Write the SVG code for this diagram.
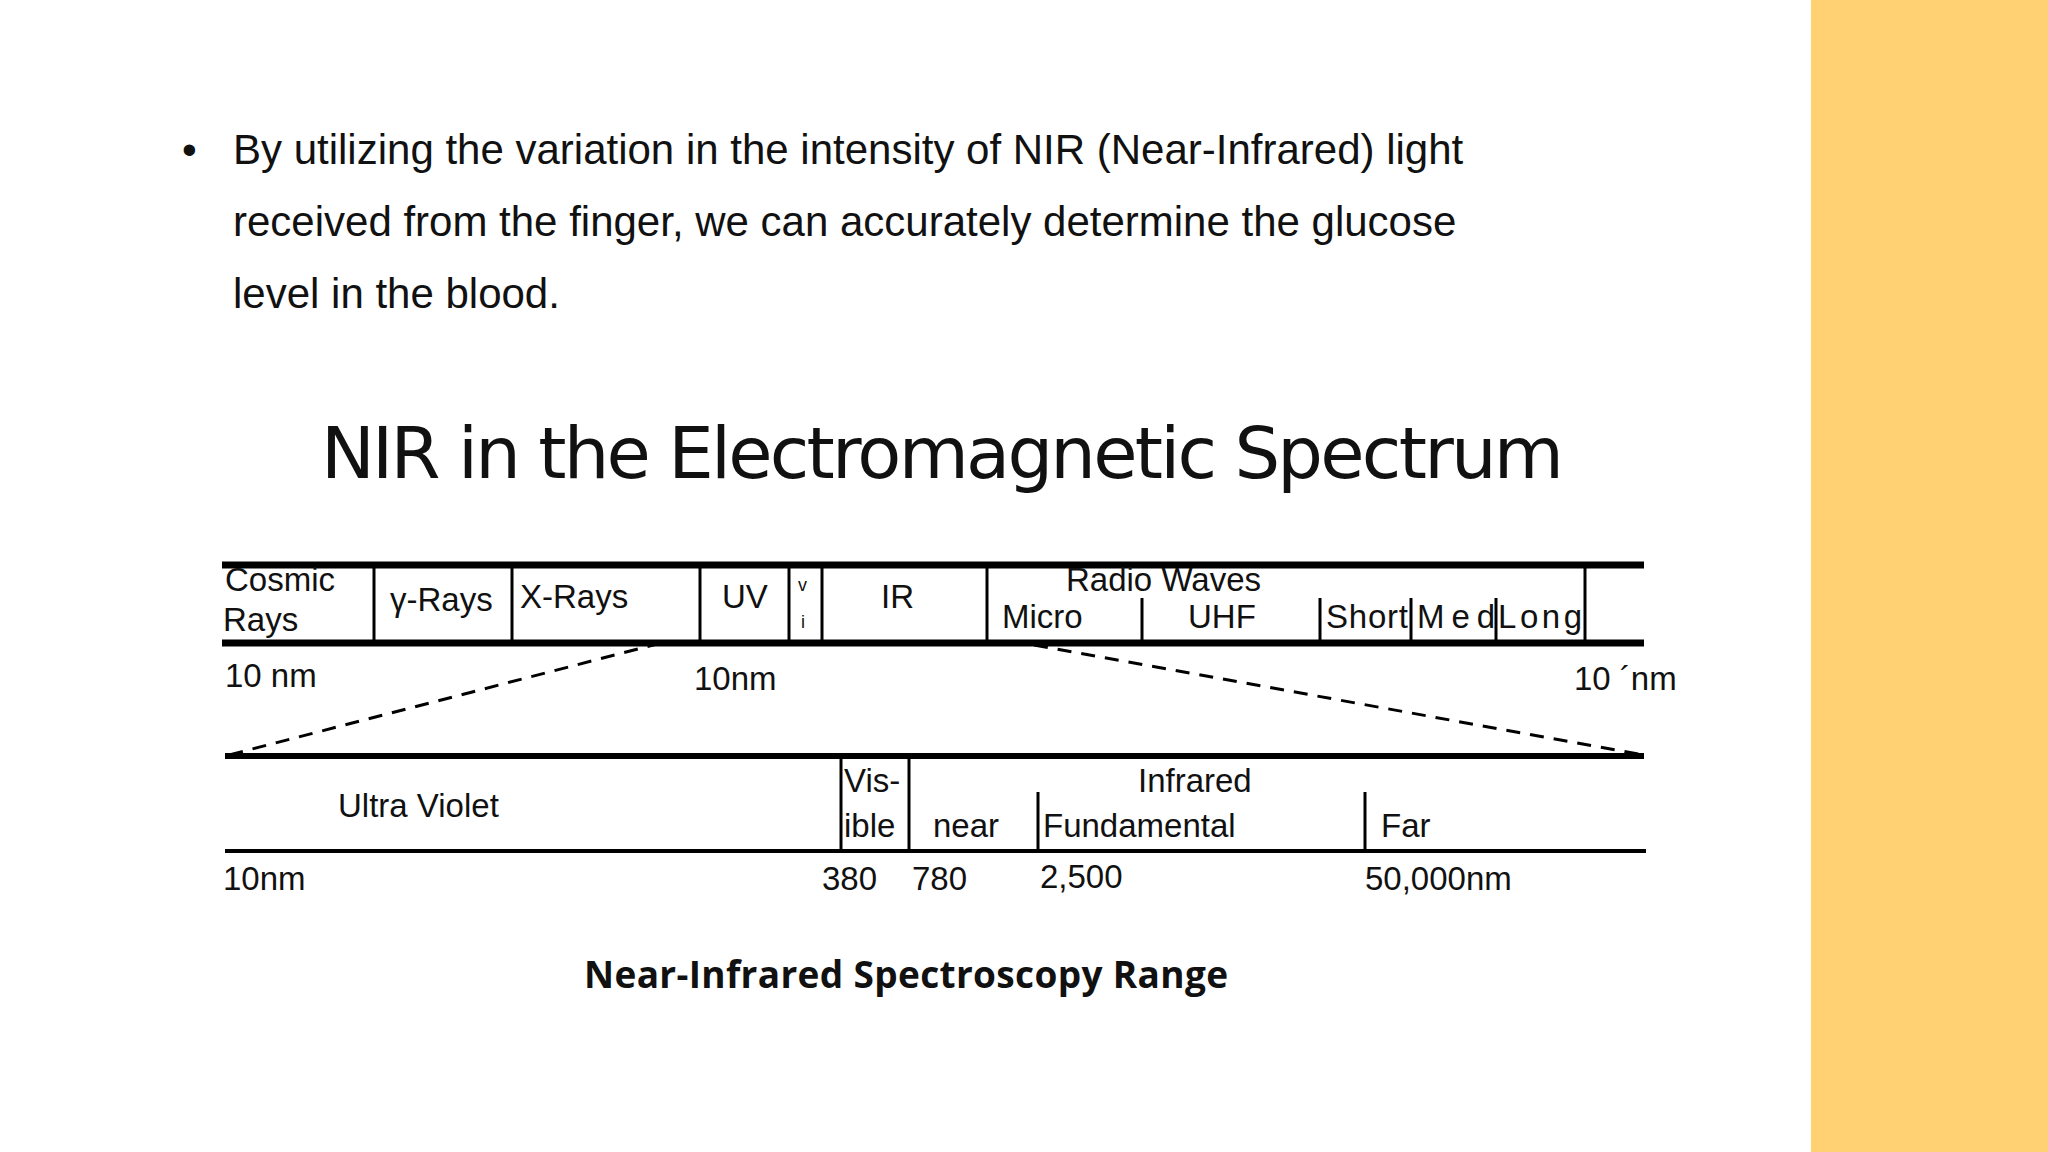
<svg xmlns="http://www.w3.org/2000/svg" width="2048" height="1152" viewBox="0 0 2048 1152">
<style>
.b{font-family:"Liberation Sans",Arial,sans-serif;font-size:42px;fill:#111}
.t{font-family:"Liberation Sans",Arial,sans-serif;font-size:33px;fill:#111}
.s{font-family:"Liberation Sans",Arial,sans-serif;font-size:18px;fill:#111}
.ln{stroke:#000;fill:none}
</style>
<rect width="2048" height="1152" fill="#fff"/>
<rect x="1811" y="0" width="237" height="1152" fill="#FFD173"/>
<g id="bullet">
<text class="b" x="182" y="164">•</text>
<text class="b" x="233" y="164">By utilizing the variation in the intensity of NIR (Near-Infrared) light</text>
<text class="b" x="233" y="236">received from the finger, we can accurately determine the glucose</text>
<text class="b" x="233" y="308">level in the blood.</text>
</g>
<g id="title"><text x="321" y="478" textLength="1243" style="font-family:'DejaVu Sans',sans-serif;font-size:72px;fill:#111">NIR in the Electromagnetic Spectrum</text></g>
<g id="connectors">
<line class="ln" x1="222" y1="565" x2="1644" y2="565" stroke-width="7"/>
<line class="ln" x1="222" y1="643" x2="1644" y2="643" stroke-width="7"/>
<g stroke-width="3" class="ln">
<line x1="374" y1="565" x2="374" y2="643"/><line x1="512" y1="565" x2="512" y2="643"/>
<line x1="700" y1="565" x2="700" y2="643"/><line x1="789" y1="565" x2="789" y2="643"/>
<line x1="822" y1="565" x2="822" y2="643"/><line x1="987" y1="565" x2="987" y2="643"/>
<line x1="1585" y1="565" x2="1585" y2="643"/>
<line x1="1142" y1="598" x2="1142" y2="643"/><line x1="1320" y1="598" x2="1320" y2="643"/>
<line x1="1411" y1="598" x2="1411" y2="643"/><line x1="1496" y1="598" x2="1496" y2="643"/>
</g>
<line class="ln" x1="661" y1="643" x2="229" y2="755" stroke-width="3" stroke-dasharray="14,10"/>
<line class="ln" x1="1034" y1="645" x2="1644" y2="755" stroke-width="3" stroke-dasharray="14,10"/>
<line class="ln" x1="225" y1="756" x2="1644" y2="756" stroke-width="6"/>
<line class="ln" x1="225" y1="851" x2="1646" y2="851" stroke-width="4"/>
<g stroke-width="3" class="ln">
<line x1="841" y1="756" x2="841" y2="851"/><line x1="909" y1="756" x2="909" y2="851"/>
<line x1="1038" y1="792" x2="1038" y2="851"/><line x1="1365" y1="792" x2="1365" y2="851"/>
</g>
</g>
<g id="top-band">
<text class="t" x="225" y="591">Cosmic</text><text class="t" x="223" y="631">Rays</text>
<text class="t" x="390" y="611">γ-Rays</text>
<text class="t" x="520" y="608">X-Rays</text>
<text class="t" x="722" y="608">UV</text>
<text class="s" x="798" y="591">v</text><text class="s" x="801" y="628">i</text>
<text class="t" x="881" y="608">IR</text>
<text class="t" x="1066" y="591">Radio Waves</text>
<text class="t" x="1002" y="628">Micro</text>
<text class="t" x="1188" y="628">UHF</text>
<text class="t" x="1326" y="628" textLength="82">Short</text>
<text class="t" x="1417" y="628" textLength="78">Med</text>
<text class="t" x="1498" y="628" textLength="84">Long</text>
</g>
<g id="top-scale">
<text class="t" x="225" y="687">10 nm</text>
<text class="t" x="694" y="690">10nm</text>
<text class="t" x="1574" y="690">10 ´nm</text>
</g>
<g id="bottom-band">
<text class="t" x="338" y="817">Ultra Violet</text>
<text class="t" x="844" y="792">Vis-</text><text class="t" x="844" y="837">ible</text>
<text class="t" x="933" y="837">near</text>
<text class="t" x="1138" y="792">Infrared</text>
<text class="t" x="1043" y="837">Fundamental</text>
<text class="t" x="1381" y="837">Far</text>
</g>
<g id="bottom-scale">
<text class="t" x="223" y="890">10nm</text>
<text class="t" x="822" y="890">380</text>
<text class="t" x="912" y="890">780</text>
<text class="t" x="1040" y="888">2,500</text>
<text class="t" x="1365" y="890">50,000nm</text>
</g>
<g id="caption"><text x="906" y="988" text-anchor="middle" textLength="644" style="font-family:'Open Sans','Liberation Sans',sans-serif;font-weight:bold;font-size:37px;fill:#111">Near-Infrared Spectroscopy Range</text></g>
</svg>
